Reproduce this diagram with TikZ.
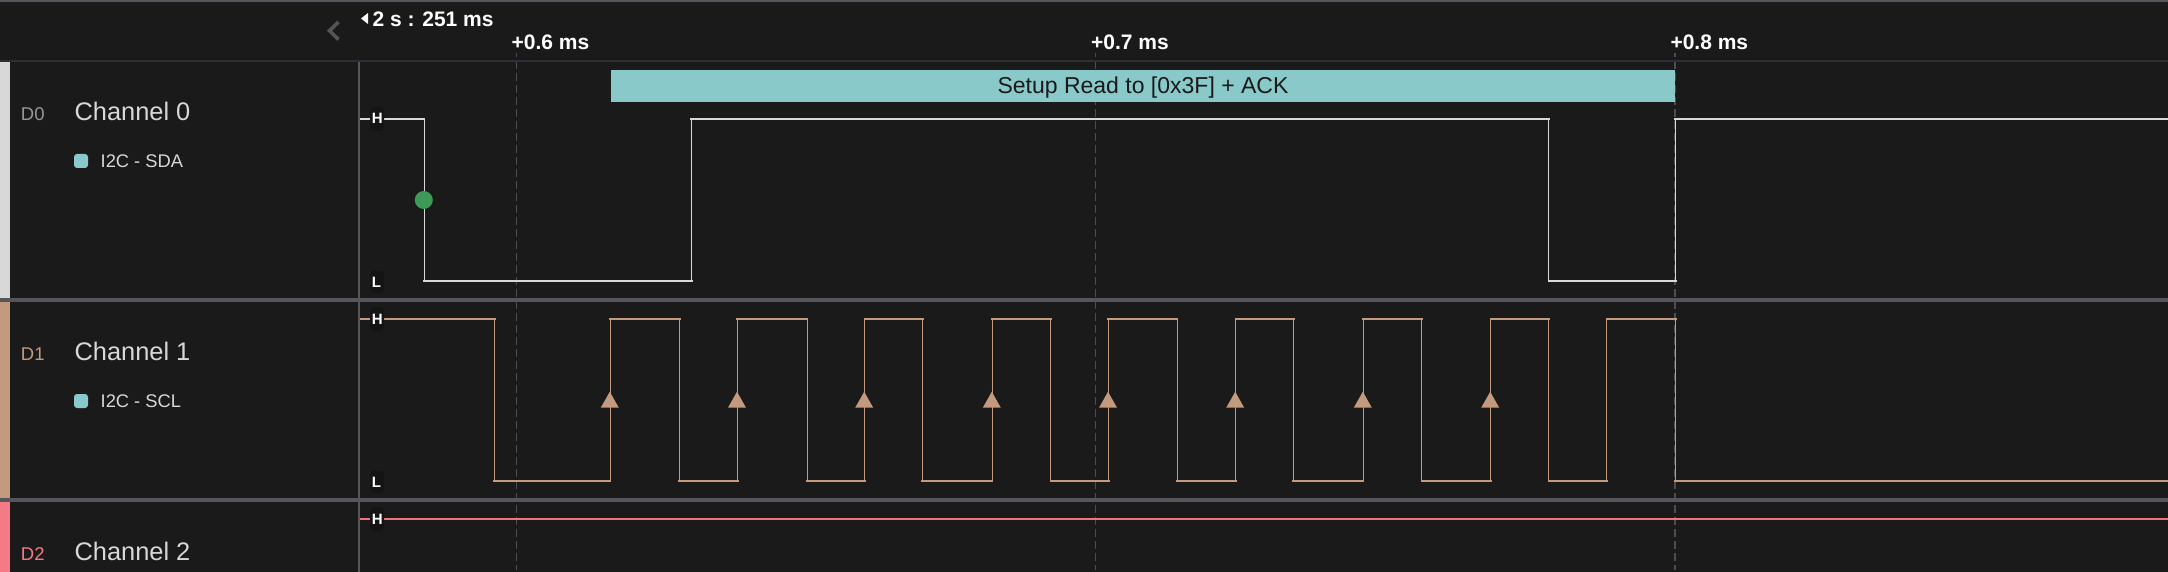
\documentclass[tikz,border=0pt]{standalone}
\usepackage{fontspec}
\setmainfont{Liberation Sans}
\definecolor{bgc}{HTML}{1A1A1A}
\definecolor{sepc}{HTML}{55555C}
\definecolor{gridc}{HTML}{4C4C52}
\definecolor{headc}{HTML}{2E2E34}
\definecolor{tealc}{HTML}{8AC9C9}
\definecolor{whsig}{HTML}{D8D8D8}
\definecolor{brsig}{HTML}{C49A7E}
\definecolor{rdsig}{HTML}{F0737F}
\definecolor{rdbar}{HTML}{F47A85}
\definecolor{pillc}{HTML}{141414}
\definecolor{greenc}{HTML}{3D9956}
\definecolor{chevc}{HTML}{555555}
\newcommand{\fsz}[1]{\fontsize{#1}{#1}\selectfont}
\tikzset{
  x=1pt,y=-1pt,
  sep/.style={sepc,line width=4pt},
  grid/.style={gridc,line width=1.3pt,dash pattern=on 8pt off 4pt,dash phase=4pt},
  thinsig/.style={line width=1.4pt,line join=miter},
  thicksig/.style={line width=2.2pt,line cap=rect},
  chname/.style={anchor=west,inner sep=0pt,text=whsig,font=\fsz{25.4}},
  dname/.style={anchor=west,inner sep=0pt,font=\fsz{18.5}},
  subname/.style={anchor=west,inner sep=0pt,text=whsig,font=\fsz{18.3}},
  tick/.style={anchor=west,inner sep=0pt,text=white,font=\fsz{21}\bfseries},
  hl/.style={inner sep=0pt,text=white,font=\fsz{15}\bfseries},
  pill/.style={pillc,rounded corners=4pt},
  swatch/.style={tealc,rounded corners=3pt},
  edge/.style={brsig},
}
\begin{document}
\begin{tikzpicture}
\useasboundingbox (0,0) rectangle (2168,572);
\fill[bgc] (0,0) rectangle (2168,572);
% dashed grid
\coordinate (g1a) at (516.5,53); \coordinate (g1b) at (516.5,570);
\coordinate (g2a) at (1095.5,53);  \coordinate (g2b) at (1095.5,570);
\coordinate (g3a) at (1675,53);  \coordinate (g3b) at (1675,570);
\draw[grid] (g1a) -- (g1b);
\draw[grid] (g2a) -- (g2b);
\draw[grid] (g3a) -- (g3b);
% separators
\fill[sepc] (0,0) rectangle (2168,2);
\fill[headc] (0,60) rectangle (2168,62);
\fill[whsig] (0,62) rectangle (10,298);
\fill[brsig] (0,302) rectangle (10,498);
\fill[rdbar] (0,502) rectangle (10,572);
\draw[sep] (0,300) -- (2168,300);
\draw[sep] (0,500) -- (2168,500);
\fill[sepc] (358.3,62) rectangle (359.8,572);
% annotation bar
\fill[tealc] (611,70) rectangle (1675,101.7);
\node[anchor=base,inner sep=0pt,text=black!90,font=\fsz{23}] (bar) at (1143,93.5) {Setup Read to [0x3F] + ACK};
% D0 signal
\draw[whsig,thinsig] (424.2,118.7) -- (424.2,281) (691.5,281) -- (691.5,118.7) (1548.6,118.7) -- (1548.6,281) (1675.4,281) -- (1675.4,118.7);
\draw[whsig,thicksig] (361,118.7) -- (424.2,118.7) (424.2,281) -- (691.5,281) (691.5,118.7) -- (1548.6,118.7) (1548.6,281) -- (1675.4,281) (1675.4,118.7) -- (2168,118.7);
\fill[greenc] (423.8,200) circle (9);
% D1 signal
\foreach \xx in {494.5,610.2,679.5,737.4,807.2,864.6,922.5,992.3,1050.6,1108.4,1177.3,1235.6,1293.5,1363.2,1421.6,1490.6,1548.6,1606.7,1675.4}
  \draw[brsig,thinsig] (\xx,319) -- (\xx,481);
\draw[brsig,thicksig]
  (361,319) -- (494.5,319)
  (610.2,319) -- (679.5,319) (737.4,319) -- (807.2,319) (864.6,319) -- (922.5,319)
  (992.3,319) -- (1050.6,319) (1108.4,319) -- (1177.3,319) (1235.6,319) -- (1293.5,319)
  (1363.2,319) -- (1421.6,319) (1490.6,319) -- (1548.6,319) (1606.7,319) -- (1675.4,319)
  (494.5,481) -- (610.2,481) (679.5,481) -- (737.4,481) (807.2,481) -- (864.6,481)
  (922.5,481) -- (992.3,481) (1050.6,481) -- (1108.4,481) (1177.3,481) -- (1235.6,481)
  (1293.5,481) -- (1363.2,481) (1421.6,481) -- (1490.6,481) (1548.6,481) -- (1606.7,481)
  (1675.4,481) -- (2168,481);
\foreach \xx in {609.8,737,864.2,991.8,1108,1235.2,1362.8,1490.2}
  \fill[edge] (\xx,391.7) -- (\xx+9,407.7) -- (\xx-9,407.7) -- cycle;
% D2 signal
\draw[rdsig,line width=2pt] (360,519) -- (2168,519);
% H/L labels
\fill[pill] (370,107) rectangle (384,131);
\fill[pill] (370,271) rectangle (384,293);
\fill[pill] (370,307) rectangle (384,331);
\fill[pill] (370,471) rectangle (384,493);
\fill[pill] (370,507) rectangle (384,531);
\node[hl] (h0) at (377.4,118.7) {H};
\node[hl] (l0) at (376.5,282.7) {L};
\node[hl] (h1) at (377.4,319) {H};
\node[hl] (l1) at (376.5,482) {L};
\node[hl] (h2) at (377.4,519) {H};
% left panel
\node[dname,text=whsig!70!black] (d0) at (20.7,114.3) {D0};
\node[dname,text=brsig] (d1) at (20.7,354) {D1};
\node[dname,text=rdbar] (d2) at (20.7,554) {D2};
\node[chname] (c0) at (74.4,111) {Channel 0};
\node[chname] (c1) at (74.4,351) {Channel 1};
\node[chname] (c2) at (74.4,551) {Channel 2};
\fill[swatch] (74,154) rectangle (88,168);
\fill[swatch] (74,394) rectangle (88,408);
\node[subname] (s0) at (100.5,161) {I2C - SDA};
\node[subname] (s1) at (100.5,401) {I2C - SCL};
% header
\draw[chevc,line width=3.6pt] (338.5,22) -- (329.5,30.7) -- (338.5,39.5);
\fill[white] (361,18.5) -- (368,13) -- (368,24) -- cycle;
\node[tick] (t0) at (372.4,19) {2 s : 251 ms};
\node[tick] (t1) at (511.5,42.3) {+0.6 ms};
\node[tick] (t2) at (1091,42.3) {+0.7 ms};
\node[tick] (t3) at (1670.3,42.3) {+0.8 ms};
\end{tikzpicture}
\end{document}
